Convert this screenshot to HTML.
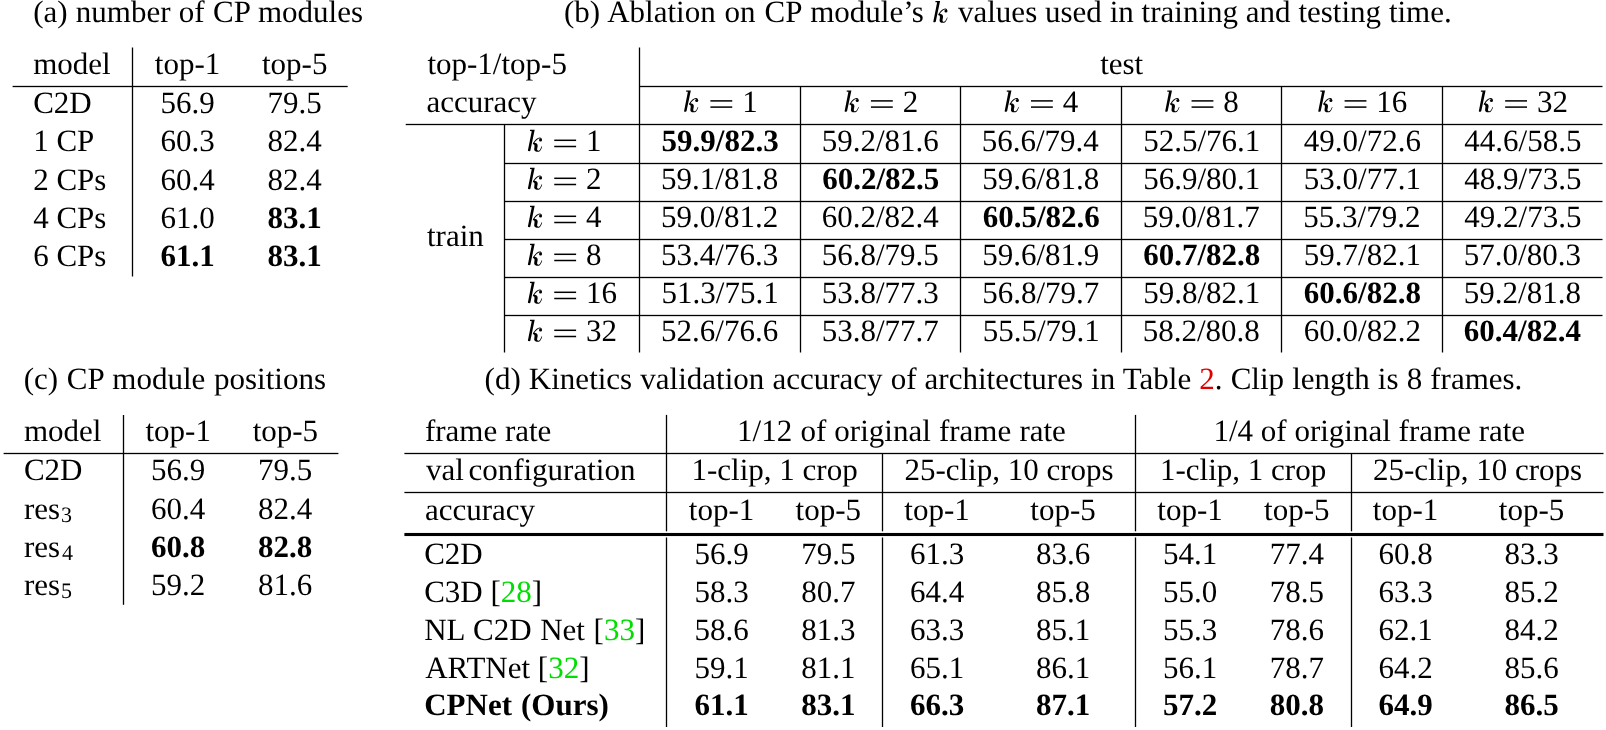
<!DOCTYPE html>
<html><head><meta charset="utf-8"><title>Tables</title>
<style>
html,body{margin:0;padding:0;background:#fff;}
body{width:1606px;height:730px;position:relative;overflow:hidden;font-family:"Liberation Serif",serif;font-size:31px;line-height:1;color:#000;}
.t{position:absolute;white-space:nowrap;line-height:1;text-rendering:geometricPrecision;}
.ln{position:absolute;left:0;top:0;}
.wrap{position:absolute;left:0;top:0;width:1606px;height:730px;will-change:transform;}
.ln rect,.ln path,.ln circle{fill:#000;}
</style></head><body>
<svg class="ln" width="1606" height="730" viewBox="0 0 1606 730"><g transform="translate(684.05,111.90) scale(0.03834)"><path d="M 55 -561 L 177 -561 L 65 -23 Q 58 -5 40 -3 L 15 -5 Q -3 -10 0 -20 L 100 -525 L 55 -528 Z"/><path d="M 135 -213 C 190 -300 250 -360 310 -360 C 355 -360 368 -330 355 -300 L 335 -305 C 342 -325 335 -335 310 -335 C 260 -335 205 -285 155 -195 Z"/><circle cx="330" cy="-295" r="40"/><path d="M 135 -222 C 205 -230 260 -200 255 -140 C 250 -90 232 -60 245 -32 C 258 -8 292 -8 315 -40 C 335 -70 350 -110 358 -130 L 372 -125 C 358 -78 338 -20 300 2 C 268 18 200 16 172 -20 C 152 -50 178 -110 172 -150 C 168 -182 150 -190 128 -186 Z"/></g><g transform="translate(844.60,111.90) scale(0.03834)"><path d="M 55 -561 L 177 -561 L 65 -23 Q 58 -5 40 -3 L 15 -5 Q -3 -10 0 -20 L 100 -525 L 55 -528 Z"/><path d="M 135 -213 C 190 -300 250 -360 310 -360 C 355 -360 368 -330 355 -300 L 335 -305 C 342 -325 335 -335 310 -335 C 260 -335 205 -285 155 -195 Z"/><circle cx="330" cy="-295" r="40"/><path d="M 135 -222 C 205 -230 260 -200 255 -140 C 250 -90 232 -60 245 -32 C 258 -8 292 -8 315 -40 C 335 -70 350 -110 358 -130 L 372 -125 C 358 -78 338 -20 300 2 C 268 18 200 16 172 -20 C 152 -50 178 -110 172 -150 C 168 -182 150 -190 128 -186 Z"/></g><g transform="translate(1004.65,111.90) scale(0.03834)"><path d="M 55 -561 L 177 -561 L 65 -23 Q 58 -5 40 -3 L 15 -5 Q -3 -10 0 -20 L 100 -525 L 55 -528 Z"/><path d="M 135 -213 C 190 -300 250 -360 310 -360 C 355 -360 368 -330 355 -300 L 335 -305 C 342 -325 335 -335 310 -335 C 260 -335 205 -285 155 -195 Z"/><circle cx="330" cy="-295" r="40"/><path d="M 135 -222 C 205 -230 260 -200 255 -140 C 250 -90 232 -60 245 -32 C 258 -8 292 -8 315 -40 C 335 -70 350 -110 358 -130 L 372 -125 C 358 -78 338 -20 300 2 C 268 18 200 16 172 -20 C 152 -50 178 -110 172 -150 C 168 -182 150 -190 128 -186 Z"/></g><g transform="translate(1165.20,111.90) scale(0.03834)"><path d="M 55 -561 L 177 -561 L 65 -23 Q 58 -5 40 -3 L 15 -5 Q -3 -10 0 -20 L 100 -525 L 55 -528 Z"/><path d="M 135 -213 C 190 -300 250 -360 310 -360 C 355 -360 368 -330 355 -300 L 335 -305 C 342 -325 335 -335 310 -335 C 260 -335 205 -285 155 -195 Z"/><circle cx="330" cy="-295" r="40"/><path d="M 135 -222 C 205 -230 260 -200 255 -140 C 250 -90 232 -60 245 -32 C 258 -8 292 -8 315 -40 C 335 -70 350 -110 358 -130 L 372 -125 C 358 -78 338 -20 300 2 C 268 18 200 16 172 -20 C 152 -50 178 -110 172 -150 C 168 -182 150 -190 128 -186 Z"/></g><g transform="translate(1318.25,111.90) scale(0.03834)"><path d="M 55 -561 L 177 -561 L 65 -23 Q 58 -5 40 -3 L 15 -5 Q -3 -10 0 -20 L 100 -525 L 55 -528 Z"/><path d="M 135 -213 C 190 -300 250 -360 310 -360 C 355 -360 368 -330 355 -300 L 335 -305 C 342 -325 335 -335 310 -335 C 260 -335 205 -285 155 -195 Z"/><circle cx="330" cy="-295" r="40"/><path d="M 135 -222 C 205 -230 260 -200 255 -140 C 250 -90 232 -60 245 -32 C 258 -8 292 -8 315 -40 C 335 -70 350 -110 358 -130 L 372 -125 C 358 -78 338 -20 300 2 C 268 18 200 16 172 -20 C 152 -50 178 -110 172 -150 C 168 -182 150 -190 128 -186 Z"/></g><g transform="translate(1478.80,111.90) scale(0.03834)"><path d="M 55 -561 L 177 -561 L 65 -23 Q 58 -5 40 -3 L 15 -5 Q -3 -10 0 -20 L 100 -525 L 55 -528 Z"/><path d="M 135 -213 C 190 -300 250 -360 310 -360 C 355 -360 368 -330 355 -300 L 335 -305 C 342 -325 335 -335 310 -335 C 260 -335 205 -285 155 -195 Z"/><circle cx="330" cy="-295" r="40"/><path d="M 135 -222 C 205 -230 260 -200 255 -140 C 250 -90 232 -60 245 -32 C 258 -8 292 -8 315 -40 C 335 -70 350 -110 358 -130 L 372 -125 C 358 -78 338 -20 300 2 C 268 18 200 16 172 -20 C 152 -50 178 -110 172 -150 C 168 -182 150 -190 128 -186 Z"/></g><g transform="translate(527.90,151.30) scale(0.03834)"><path d="M 55 -561 L 177 -561 L 65 -23 Q 58 -5 40 -3 L 15 -5 Q -3 -10 0 -20 L 100 -525 L 55 -528 Z"/><path d="M 135 -213 C 190 -300 250 -360 310 -360 C 355 -360 368 -330 355 -300 L 335 -305 C 342 -325 335 -335 310 -335 C 260 -335 205 -285 155 -195 Z"/><circle cx="330" cy="-295" r="40"/><path d="M 135 -222 C 205 -230 260 -200 255 -140 C 250 -90 232 -60 245 -32 C 258 -8 292 -8 315 -40 C 335 -70 350 -110 358 -130 L 372 -125 C 358 -78 338 -20 300 2 C 268 18 200 16 172 -20 C 152 -50 178 -110 172 -150 C 168 -182 150 -190 128 -186 Z"/></g><g transform="translate(527.90,189.30) scale(0.03834)"><path d="M 55 -561 L 177 -561 L 65 -23 Q 58 -5 40 -3 L 15 -5 Q -3 -10 0 -20 L 100 -525 L 55 -528 Z"/><path d="M 135 -213 C 190 -300 250 -360 310 -360 C 355 -360 368 -330 355 -300 L 335 -305 C 342 -325 335 -335 310 -335 C 260 -335 205 -285 155 -195 Z"/><circle cx="330" cy="-295" r="40"/><path d="M 135 -222 C 205 -230 260 -200 255 -140 C 250 -90 232 -60 245 -32 C 258 -8 292 -8 315 -40 C 335 -70 350 -110 358 -130 L 372 -125 C 358 -78 338 -20 300 2 C 268 18 200 16 172 -20 C 152 -50 178 -110 172 -150 C 168 -182 150 -190 128 -186 Z"/></g><g transform="translate(527.90,227.30) scale(0.03834)"><path d="M 55 -561 L 177 -561 L 65 -23 Q 58 -5 40 -3 L 15 -5 Q -3 -10 0 -20 L 100 -525 L 55 -528 Z"/><path d="M 135 -213 C 190 -300 250 -360 310 -360 C 355 -360 368 -330 355 -300 L 335 -305 C 342 -325 335 -335 310 -335 C 260 -335 205 -285 155 -195 Z"/><circle cx="330" cy="-295" r="40"/><path d="M 135 -222 C 205 -230 260 -200 255 -140 C 250 -90 232 -60 245 -32 C 258 -8 292 -8 315 -40 C 335 -70 350 -110 358 -130 L 372 -125 C 358 -78 338 -20 300 2 C 268 18 200 16 172 -20 C 152 -50 178 -110 172 -150 C 168 -182 150 -190 128 -186 Z"/></g><g transform="translate(527.90,265.30) scale(0.03834)"><path d="M 55 -561 L 177 -561 L 65 -23 Q 58 -5 40 -3 L 15 -5 Q -3 -10 0 -20 L 100 -525 L 55 -528 Z"/><path d="M 135 -213 C 190 -300 250 -360 310 -360 C 355 -360 368 -330 355 -300 L 335 -305 C 342 -325 335 -335 310 -335 C 260 -335 205 -285 155 -195 Z"/><circle cx="330" cy="-295" r="40"/><path d="M 135 -222 C 205 -230 260 -200 255 -140 C 250 -90 232 -60 245 -32 C 258 -8 292 -8 315 -40 C 335 -70 350 -110 358 -130 L 372 -125 C 358 -78 338 -20 300 2 C 268 18 200 16 172 -20 C 152 -50 178 -110 172 -150 C 168 -182 150 -190 128 -186 Z"/></g><g transform="translate(527.90,303.30) scale(0.03834)"><path d="M 55 -561 L 177 -561 L 65 -23 Q 58 -5 40 -3 L 15 -5 Q -3 -10 0 -20 L 100 -525 L 55 -528 Z"/><path d="M 135 -213 C 190 -300 250 -360 310 -360 C 355 -360 368 -330 355 -300 L 335 -305 C 342 -325 335 -335 310 -335 C 260 -335 205 -285 155 -195 Z"/><circle cx="330" cy="-295" r="40"/><path d="M 135 -222 C 205 -230 260 -200 255 -140 C 250 -90 232 -60 245 -32 C 258 -8 292 -8 315 -40 C 335 -70 350 -110 358 -130 L 372 -125 C 358 -78 338 -20 300 2 C 268 18 200 16 172 -20 C 152 -50 178 -110 172 -150 C 168 -182 150 -190 128 -186 Z"/></g><g transform="translate(527.90,341.30) scale(0.03834)"><path d="M 55 -561 L 177 -561 L 65 -23 Q 58 -5 40 -3 L 15 -5 Q -3 -10 0 -20 L 100 -525 L 55 -528 Z"/><path d="M 135 -213 C 190 -300 250 -360 310 -360 C 355 -360 368 -330 355 -300 L 335 -305 C 342 -325 335 -335 310 -335 C 260 -335 205 -285 155 -195 Z"/><circle cx="330" cy="-295" r="40"/><path d="M 135 -222 C 205 -230 260 -200 255 -140 C 250 -90 232 -60 245 -32 C 258 -8 292 -8 315 -40 C 335 -70 350 -110 358 -130 L 372 -125 C 358 -78 338 -20 300 2 C 268 18 200 16 172 -20 C 152 -50 178 -110 172 -150 C 168 -182 150 -190 128 -186 Z"/></g><g transform="translate(933.30,22.40) scale(0.03834)"><path d="M 55 -561 L 177 -561 L 65 -23 Q 58 -5 40 -3 L 15 -5 Q -3 -10 0 -20 L 100 -525 L 55 -528 Z"/><path d="M 135 -213 C 190 -300 250 -360 310 -360 C 355 -360 368 -330 355 -300 L 335 -305 C 342 -325 335 -335 310 -335 C 260 -335 205 -285 155 -195 Z"/><circle cx="330" cy="-295" r="40"/><path d="M 135 -222 C 205 -230 260 -200 255 -140 C 250 -90 232 -60 245 -32 C 258 -8 292 -8 315 -40 C 335 -70 350 -110 358 -130 L 372 -125 C 358 -78 338 -20 300 2 C 268 18 200 16 172 -20 C 152 -50 178 -110 172 -150 C 168 -182 150 -190 128 -186 Z"/></g><rect x="12.60" y="85.85" width="335.10" height="1.30"/><rect x="131.85" y="47.50" width="1.30" height="229.00"/><rect x="3.60" y="452.85" width="334.80" height="1.30"/><rect x="122.85" y="415.00" width="1.30" height="189.80"/><rect x="638.85" y="47.50" width="1.30" height="305.00"/><rect x="639.50" y="85.85" width="963.00" height="1.30"/><rect x="405.70" y="123.85" width="1196.80" height="1.30"/><rect x="504.50" y="162.85" width="1098.00" height="1.30"/><rect x="504.50" y="200.85" width="1098.00" height="1.30"/><rect x="504.50" y="238.85" width="1098.00" height="1.30"/><rect x="504.50" y="276.85" width="1098.00" height="1.30"/><rect x="504.50" y="314.85" width="1098.00" height="1.30"/><rect x="503.85" y="124.50" width="1.30" height="228.00"/><rect x="799.85" y="86.50" width="1.30" height="266.00"/><rect x="959.85" y="86.50" width="1.30" height="266.00"/><rect x="1120.85" y="86.50" width="1.30" height="266.00"/><rect x="1280.85" y="86.50" width="1.30" height="266.00"/><rect x="1441.85" y="86.50" width="1.30" height="266.00"/><rect x="665.85" y="414.90" width="1.30" height="116.40"/><rect x="665.85" y="537.50" width="1.30" height="189.50"/><rect x="1134.85" y="414.90" width="1.30" height="116.40"/><rect x="1134.85" y="537.50" width="1.30" height="189.50"/><rect x="881.85" y="453.50" width="1.30" height="77.80"/><rect x="881.85" y="537.50" width="1.30" height="189.50"/><rect x="1350.85" y="453.50" width="1.30" height="77.80"/><rect x="1350.85" y="537.50" width="1.30" height="189.50"/><rect x="404.40" y="452.85" width="1199.10" height="1.30"/><rect x="404.40" y="491.85" width="1199.10" height="1.30"/><rect x="404.40" y="532.95" width="1199.10" height="3.10"/><rect x="710.40" y="100.15" width="21.85" height="1.50"/><rect x="710.40" y="106.35" width="21.85" height="1.50"/><rect x="870.95" y="100.15" width="21.85" height="1.50"/><rect x="870.95" y="106.35" width="21.85" height="1.50"/><rect x="1031.00" y="100.15" width="21.85" height="1.50"/><rect x="1031.00" y="106.35" width="21.85" height="1.50"/><rect x="1191.55" y="100.15" width="21.85" height="1.50"/><rect x="1191.55" y="106.35" width="21.85" height="1.50"/><rect x="1344.60" y="100.15" width="21.85" height="1.50"/><rect x="1344.60" y="106.35" width="21.85" height="1.50"/><rect x="1505.15" y="100.15" width="21.85" height="1.50"/><rect x="1505.15" y="106.35" width="21.85" height="1.50"/><rect x="554.25" y="139.55" width="21.85" height="1.50"/><rect x="554.25" y="145.75" width="21.85" height="1.50"/><rect x="554.25" y="177.55" width="21.85" height="1.50"/><rect x="554.25" y="183.75" width="21.85" height="1.50"/><rect x="554.25" y="215.55" width="21.85" height="1.50"/><rect x="554.25" y="221.75" width="21.85" height="1.50"/><rect x="554.25" y="253.55" width="21.85" height="1.50"/><rect x="554.25" y="259.75" width="21.85" height="1.50"/><rect x="554.25" y="291.55" width="21.85" height="1.50"/><rect x="554.25" y="297.75" width="21.85" height="1.50"/><rect x="554.25" y="329.55" width="21.85" height="1.50"/><rect x="554.25" y="335.75" width="21.85" height="1.50"/></svg>
<div class="wrap">
<div class="t" style="font-size:31px;left:33.20px;top:-3.76px;word-spacing:0.53px;">(a) number of CP modules</div>
<div class="t" style="font-size:31px;left:563.90px;top:-3.76px;word-spacing:1.15px;">(b) Ablation on CP module’s</div>
<div class="t" style="font-size:31px;left:958.00px;top:-3.76px;word-spacing:0.07px;">values used in training and testing time.</div>
<div class="t" style="font-size:31px;left:23.70px;top:363.14px;word-spacing:0.97px;">(c) CP module positions</div>
<div class="t" style="font-size:31px;left:484.60px;top:362.94px;word-spacing:0.38px;">(d) Kinetics validation accuracy of architectures in Table <span style="color:#e00000">2</span>. Clip length is 8 frames.</div>
<div class="t" style="font-size:31px;left:33.20px;top:48.04px;">model</div>
<div class="t" style="font-size:31px;left:154.78px;top:48.04px;">top-1</div>
<div class="t" style="font-size:31px;left:261.98px;top:48.04px;">top-5</div>
<div class="t" style="font-size:31px;left:33.20px;top:87.34px;">C2D</div>
<div class="t" style="font-size:31px;left:160.38px;top:87.34px;">56.9</div>
<div class="t" style="font-size:31px;left:267.38px;top:87.34px;">79.5</div>
<div class="t" style="font-size:31px;left:33.20px;top:125.44px;">1 CP</div>
<div class="t" style="font-size:31px;left:160.38px;top:125.44px;">60.3</div>
<div class="t" style="font-size:31px;left:267.38px;top:125.44px;">82.4</div>
<div class="t" style="font-size:31px;left:33.20px;top:163.54px;">2 CPs</div>
<div class="t" style="font-size:31px;left:160.38px;top:163.54px;">60.4</div>
<div class="t" style="font-size:31px;left:267.38px;top:163.54px;">82.4</div>
<div class="t" style="font-size:31px;left:33.20px;top:201.54px;">4 CPs</div>
<div class="t" style="font-size:31px;left:160.38px;top:201.54px;">61.0</div>
<div class="t" style="font-size:31px;font-weight:bold;left:267.38px;top:201.54px;">83.1</div>
<div class="t" style="font-size:31px;left:33.20px;top:239.54px;">6 CPs</div>
<div class="t" style="font-size:31px;font-weight:bold;left:160.38px;top:239.54px;">61.1</div>
<div class="t" style="font-size:31px;font-weight:bold;left:267.38px;top:239.54px;">83.1</div>
<div class="t" style="font-size:31px;left:23.90px;top:414.54px;">model</div>
<div class="t" style="font-size:31px;left:145.48px;top:414.54px;">top-1</div>
<div class="t" style="font-size:31px;left:252.68px;top:414.54px;">top-5</div>
<div class="t" style="font-size:31px;left:23.90px;top:454.44px;">C2D</div>
<div class="t" style="font-size:31px;left:151.07px;top:454.44px;">56.9</div>
<div class="t" style="font-size:31px;left:258.07px;top:454.44px;">79.5</div>
<div class="t" style="font-size:31px;left:23.90px;top:492.74px;">res</div>
<div class="t" style="font-size:22px;left:60.90px;top:503.68px;">3</div>
<div class="t" style="font-size:31px;left:151.07px;top:492.74px;">60.4</div>
<div class="t" style="font-size:31px;left:258.07px;top:492.74px;">82.4</div>
<div class="t" style="font-size:31px;left:23.90px;top:530.84px;">res</div>
<div class="t" style="font-size:22px;left:61.90px;top:541.78px;">4</div>
<div class="t" style="font-size:31px;font-weight:bold;left:151.07px;top:530.84px;">60.8</div>
<div class="t" style="font-size:31px;font-weight:bold;left:258.07px;top:530.84px;">82.8</div>
<div class="t" style="font-size:31px;left:23.90px;top:568.74px;">res</div>
<div class="t" style="font-size:22px;left:60.90px;top:579.68px;">5</div>
<div class="t" style="font-size:31px;left:151.07px;top:568.74px;">59.2</div>
<div class="t" style="font-size:31px;left:258.07px;top:568.74px;">81.6</div>
<div class="t" style="font-size:31px;left:427.40px;top:47.94px;">top-1/top-5</div>
<div class="t" style="font-size:31px;left:426.40px;top:85.94px;">accuracy</div>
<div class="t" style="font-size:31px;left:1100.20px;top:48.14px;">test</div>
<div class="t" style="font-size:31px;left:427.00px;top:219.94px;">train</div>
<div class="t" style="font-size:31px;font-weight:bold;left:661.60px;top:125.34px;">59.9/82.3</div>
<div class="t" style="font-size:31px;left:821.65px;top:125.34px;">59.2/81.6</div>
<div class="t" style="font-size:31px;left:981.70px;top:125.34px;">56.6/79.4</div>
<div class="t" style="font-size:31px;left:1143.25px;top:125.34px;">52.5/76.1</div>
<div class="t" style="font-size:31px;left:1303.80px;top:125.34px;">49.0/72.6</div>
<div class="t" style="font-size:31px;left:1464.35px;top:125.34px;">44.6/58.5</div>
<div class="t" style="font-size:31px;left:661.10px;top:163.34px;">59.1/81.8</div>
<div class="t" style="font-size:31px;font-weight:bold;left:822.15px;top:163.34px;">60.2/82.5</div>
<div class="t" style="font-size:31px;left:982.20px;top:163.34px;">59.6/81.8</div>
<div class="t" style="font-size:31px;left:1143.25px;top:163.34px;">56.9/80.1</div>
<div class="t" style="font-size:31px;left:1303.80px;top:163.34px;">53.0/77.1</div>
<div class="t" style="font-size:31px;left:1464.35px;top:163.34px;">48.9/73.5</div>
<div class="t" style="font-size:31px;left:661.10px;top:201.34px;">59.0/81.2</div>
<div class="t" style="font-size:31px;left:821.65px;top:201.34px;">60.2/82.4</div>
<div class="t" style="font-size:31px;font-weight:bold;left:982.70px;top:201.34px;">60.5/82.6</div>
<div class="t" style="font-size:31px;left:1142.75px;top:201.34px;">59.0/81.7</div>
<div class="t" style="font-size:31px;left:1303.30px;top:201.34px;">55.3/79.2</div>
<div class="t" style="font-size:31px;left:1464.35px;top:201.34px;">49.2/73.5</div>
<div class="t" style="font-size:31px;left:661.10px;top:239.34px;">53.4/76.3</div>
<div class="t" style="font-size:31px;left:821.65px;top:239.34px;">56.8/79.5</div>
<div class="t" style="font-size:31px;left:982.20px;top:239.34px;">59.6/81.9</div>
<div class="t" style="font-size:31px;font-weight:bold;left:1143.25px;top:239.34px;">60.7/82.8</div>
<div class="t" style="font-size:31px;left:1303.80px;top:239.34px;">59.7/82.1</div>
<div class="t" style="font-size:31px;left:1463.85px;top:239.34px;">57.0/80.3</div>
<div class="t" style="font-size:31px;left:661.60px;top:277.34px;">51.3/75.1</div>
<div class="t" style="font-size:31px;left:821.65px;top:277.34px;">53.8/77.3</div>
<div class="t" style="font-size:31px;left:982.20px;top:277.34px;">56.8/79.7</div>
<div class="t" style="font-size:31px;left:1143.25px;top:277.34px;">59.8/82.1</div>
<div class="t" style="font-size:31px;font-weight:bold;left:1303.80px;top:277.34px;">60.6/82.8</div>
<div class="t" style="font-size:31px;left:1463.85px;top:277.34px;">59.2/81.8</div>
<div class="t" style="font-size:31px;left:661.10px;top:315.34px;">52.6/76.6</div>
<div class="t" style="font-size:31px;left:821.65px;top:315.34px;">53.8/77.7</div>
<div class="t" style="font-size:31px;left:982.70px;top:315.34px;">55.5/79.1</div>
<div class="t" style="font-size:31px;left:1142.75px;top:315.34px;">58.2/80.8</div>
<div class="t" style="font-size:31px;left:1303.80px;top:315.34px;">60.0/82.2</div>
<div class="t" style="font-size:31px;font-weight:bold;left:1463.85px;top:315.34px;">60.4/82.4</div>
<div class="t" style="font-size:31px;left:424.90px;top:415.04px;">frame rate</div>
<div class="t" style="font-size:31px;left:425.90px;top:454.24px;word-spacing:-3.10px;">val configuration</div>
<div class="t" style="font-size:31px;left:424.90px;top:493.54px;">accuracy</div>
<div class="t" style="font-size:31px;left:737.10px;top:415.04px;word-spacing:0.42px;">1/12 of original frame rate</div>
<div class="t" style="font-size:31px;left:1213.50px;top:415.04px;">1/4 of original frame rate</div>
<div class="t" style="font-size:31px;left:691.53px;top:454.24px;">1-clip, 1 crop</div>
<div class="t" style="font-size:31px;left:904.39px;top:454.24px;">25-clip, 10 crops</div>
<div class="t" style="font-size:31px;left:1160.03px;top:454.24px;">1-clip, 1 crop</div>
<div class="t" style="font-size:31px;left:1372.89px;top:454.24px;">25-clip, 10 crops</div>
<div class="t" style="font-size:31px;left:688.78px;top:493.64px;">top-1</div>
<div class="t" style="font-size:31px;left:795.58px;top:493.64px;">top-5</div>
<div class="t" style="font-size:31px;left:904.28px;top:493.64px;">top-1</div>
<div class="t" style="font-size:31px;left:1030.28px;top:493.64px;">top-5</div>
<div class="t" style="font-size:31px;left:1157.28px;top:493.64px;">top-1</div>
<div class="t" style="font-size:31px;left:1264.08px;top:493.64px;">top-5</div>
<div class="t" style="font-size:31px;left:1372.78px;top:493.64px;">top-1</div>
<div class="t" style="font-size:31px;left:1498.78px;top:493.64px;">top-5</div>
<div class="t" style="font-size:31px;left:424.20px;top:537.54px;">C2D</div>
<div class="t" style="font-size:31px;left:694.38px;top:537.54px;">56.9</div>
<div class="t" style="font-size:31px;left:801.17px;top:537.54px;">79.5</div>
<div class="t" style="font-size:31px;left:909.88px;top:537.54px;">61.3</div>
<div class="t" style="font-size:31px;left:1035.88px;top:537.54px;">83.6</div>
<div class="t" style="font-size:31px;left:1162.88px;top:537.54px;">54.1</div>
<div class="t" style="font-size:31px;left:1269.67px;top:537.54px;">77.4</div>
<div class="t" style="font-size:31px;left:1378.38px;top:537.54px;">60.8</div>
<div class="t" style="font-size:31px;left:1504.38px;top:537.54px;">83.3</div>
<div class="t" style="font-size:31px;left:424.20px;top:575.64px;">C3D [<span style="color:#00dd00">28</span>]</div>
<div class="t" style="font-size:31px;left:694.38px;top:575.64px;">58.3</div>
<div class="t" style="font-size:31px;left:801.17px;top:575.64px;">80.7</div>
<div class="t" style="font-size:31px;left:909.88px;top:575.64px;">64.4</div>
<div class="t" style="font-size:31px;left:1035.88px;top:575.64px;">85.8</div>
<div class="t" style="font-size:31px;left:1162.88px;top:575.64px;">55.0</div>
<div class="t" style="font-size:31px;left:1269.67px;top:575.64px;">78.5</div>
<div class="t" style="font-size:31px;left:1378.38px;top:575.64px;">63.3</div>
<div class="t" style="font-size:31px;left:1504.38px;top:575.64px;">85.2</div>
<div class="t" style="font-size:31px;left:424.20px;top:613.74px;word-spacing:0.87px;">NL C2D Net [<span style="color:#00dd00">33</span>]</div>
<div class="t" style="font-size:31px;left:694.38px;top:613.74px;">58.6</div>
<div class="t" style="font-size:31px;left:801.17px;top:613.74px;">81.3</div>
<div class="t" style="font-size:31px;left:909.88px;top:613.74px;">63.3</div>
<div class="t" style="font-size:31px;left:1035.88px;top:613.74px;">85.1</div>
<div class="t" style="font-size:31px;left:1162.88px;top:613.74px;">55.3</div>
<div class="t" style="font-size:31px;left:1269.67px;top:613.74px;">78.6</div>
<div class="t" style="font-size:31px;left:1378.38px;top:613.74px;">62.1</div>
<div class="t" style="font-size:31px;left:1504.38px;top:613.74px;">84.2</div>
<div class="t" style="font-size:31px;left:425.20px;top:651.64px;">ARTNet [<span style="color:#00dd00">32</span>]</div>
<div class="t" style="font-size:31px;left:694.38px;top:651.64px;">59.1</div>
<div class="t" style="font-size:31px;left:801.17px;top:651.64px;">81.1</div>
<div class="t" style="font-size:31px;left:909.88px;top:651.64px;">65.1</div>
<div class="t" style="font-size:31px;left:1035.88px;top:651.64px;">86.1</div>
<div class="t" style="font-size:31px;left:1162.88px;top:651.64px;">56.1</div>
<div class="t" style="font-size:31px;left:1269.67px;top:651.64px;">78.7</div>
<div class="t" style="font-size:31px;left:1378.38px;top:651.64px;">64.2</div>
<div class="t" style="font-size:31px;left:1504.38px;top:651.64px;">85.6</div>
<div class="t" style="font-size:31px;font-weight:bold;left:424.20px;top:689.44px;word-spacing:1.30px;">CPNet (Ours)</div>
<div class="t" style="font-size:31px;font-weight:bold;left:694.38px;top:689.44px;">61.1</div>
<div class="t" style="font-size:31px;font-weight:bold;left:801.17px;top:689.44px;">83.1</div>
<div class="t" style="font-size:31px;font-weight:bold;left:909.88px;top:689.44px;">66.3</div>
<div class="t" style="font-size:31px;font-weight:bold;left:1035.88px;top:689.44px;">87.1</div>
<div class="t" style="font-size:31px;font-weight:bold;left:1162.88px;top:689.44px;">57.2</div>
<div class="t" style="font-size:31px;font-weight:bold;left:1269.67px;top:689.44px;">80.8</div>
<div class="t" style="font-size:31px;font-weight:bold;left:1378.38px;top:689.44px;">64.9</div>
<div class="t" style="font-size:31px;font-weight:bold;left:1504.38px;top:689.44px;">86.5</div>
<div class="t" style="left:742.15px;top:85.94px">1</div>
<div class="t" style="left:902.70px;top:85.94px">2</div>
<div class="t" style="left:1062.75px;top:85.94px">4</div>
<div class="t" style="left:1223.30px;top:85.94px">8</div>
<div class="t" style="left:1376.35px;top:85.94px">16</div>
<div class="t" style="left:1536.90px;top:85.94px">32</div>
<div class="t" style="left:586.00px;top:125.34px">1</div>
<div class="t" style="left:586.00px;top:163.34px">2</div>
<div class="t" style="left:586.00px;top:201.34px">4</div>
<div class="t" style="left:586.00px;top:239.34px">8</div>
<div class="t" style="left:586.00px;top:277.34px">16</div>
<div class="t" style="left:586.00px;top:315.34px">32</div>
</div>
</body></html>
